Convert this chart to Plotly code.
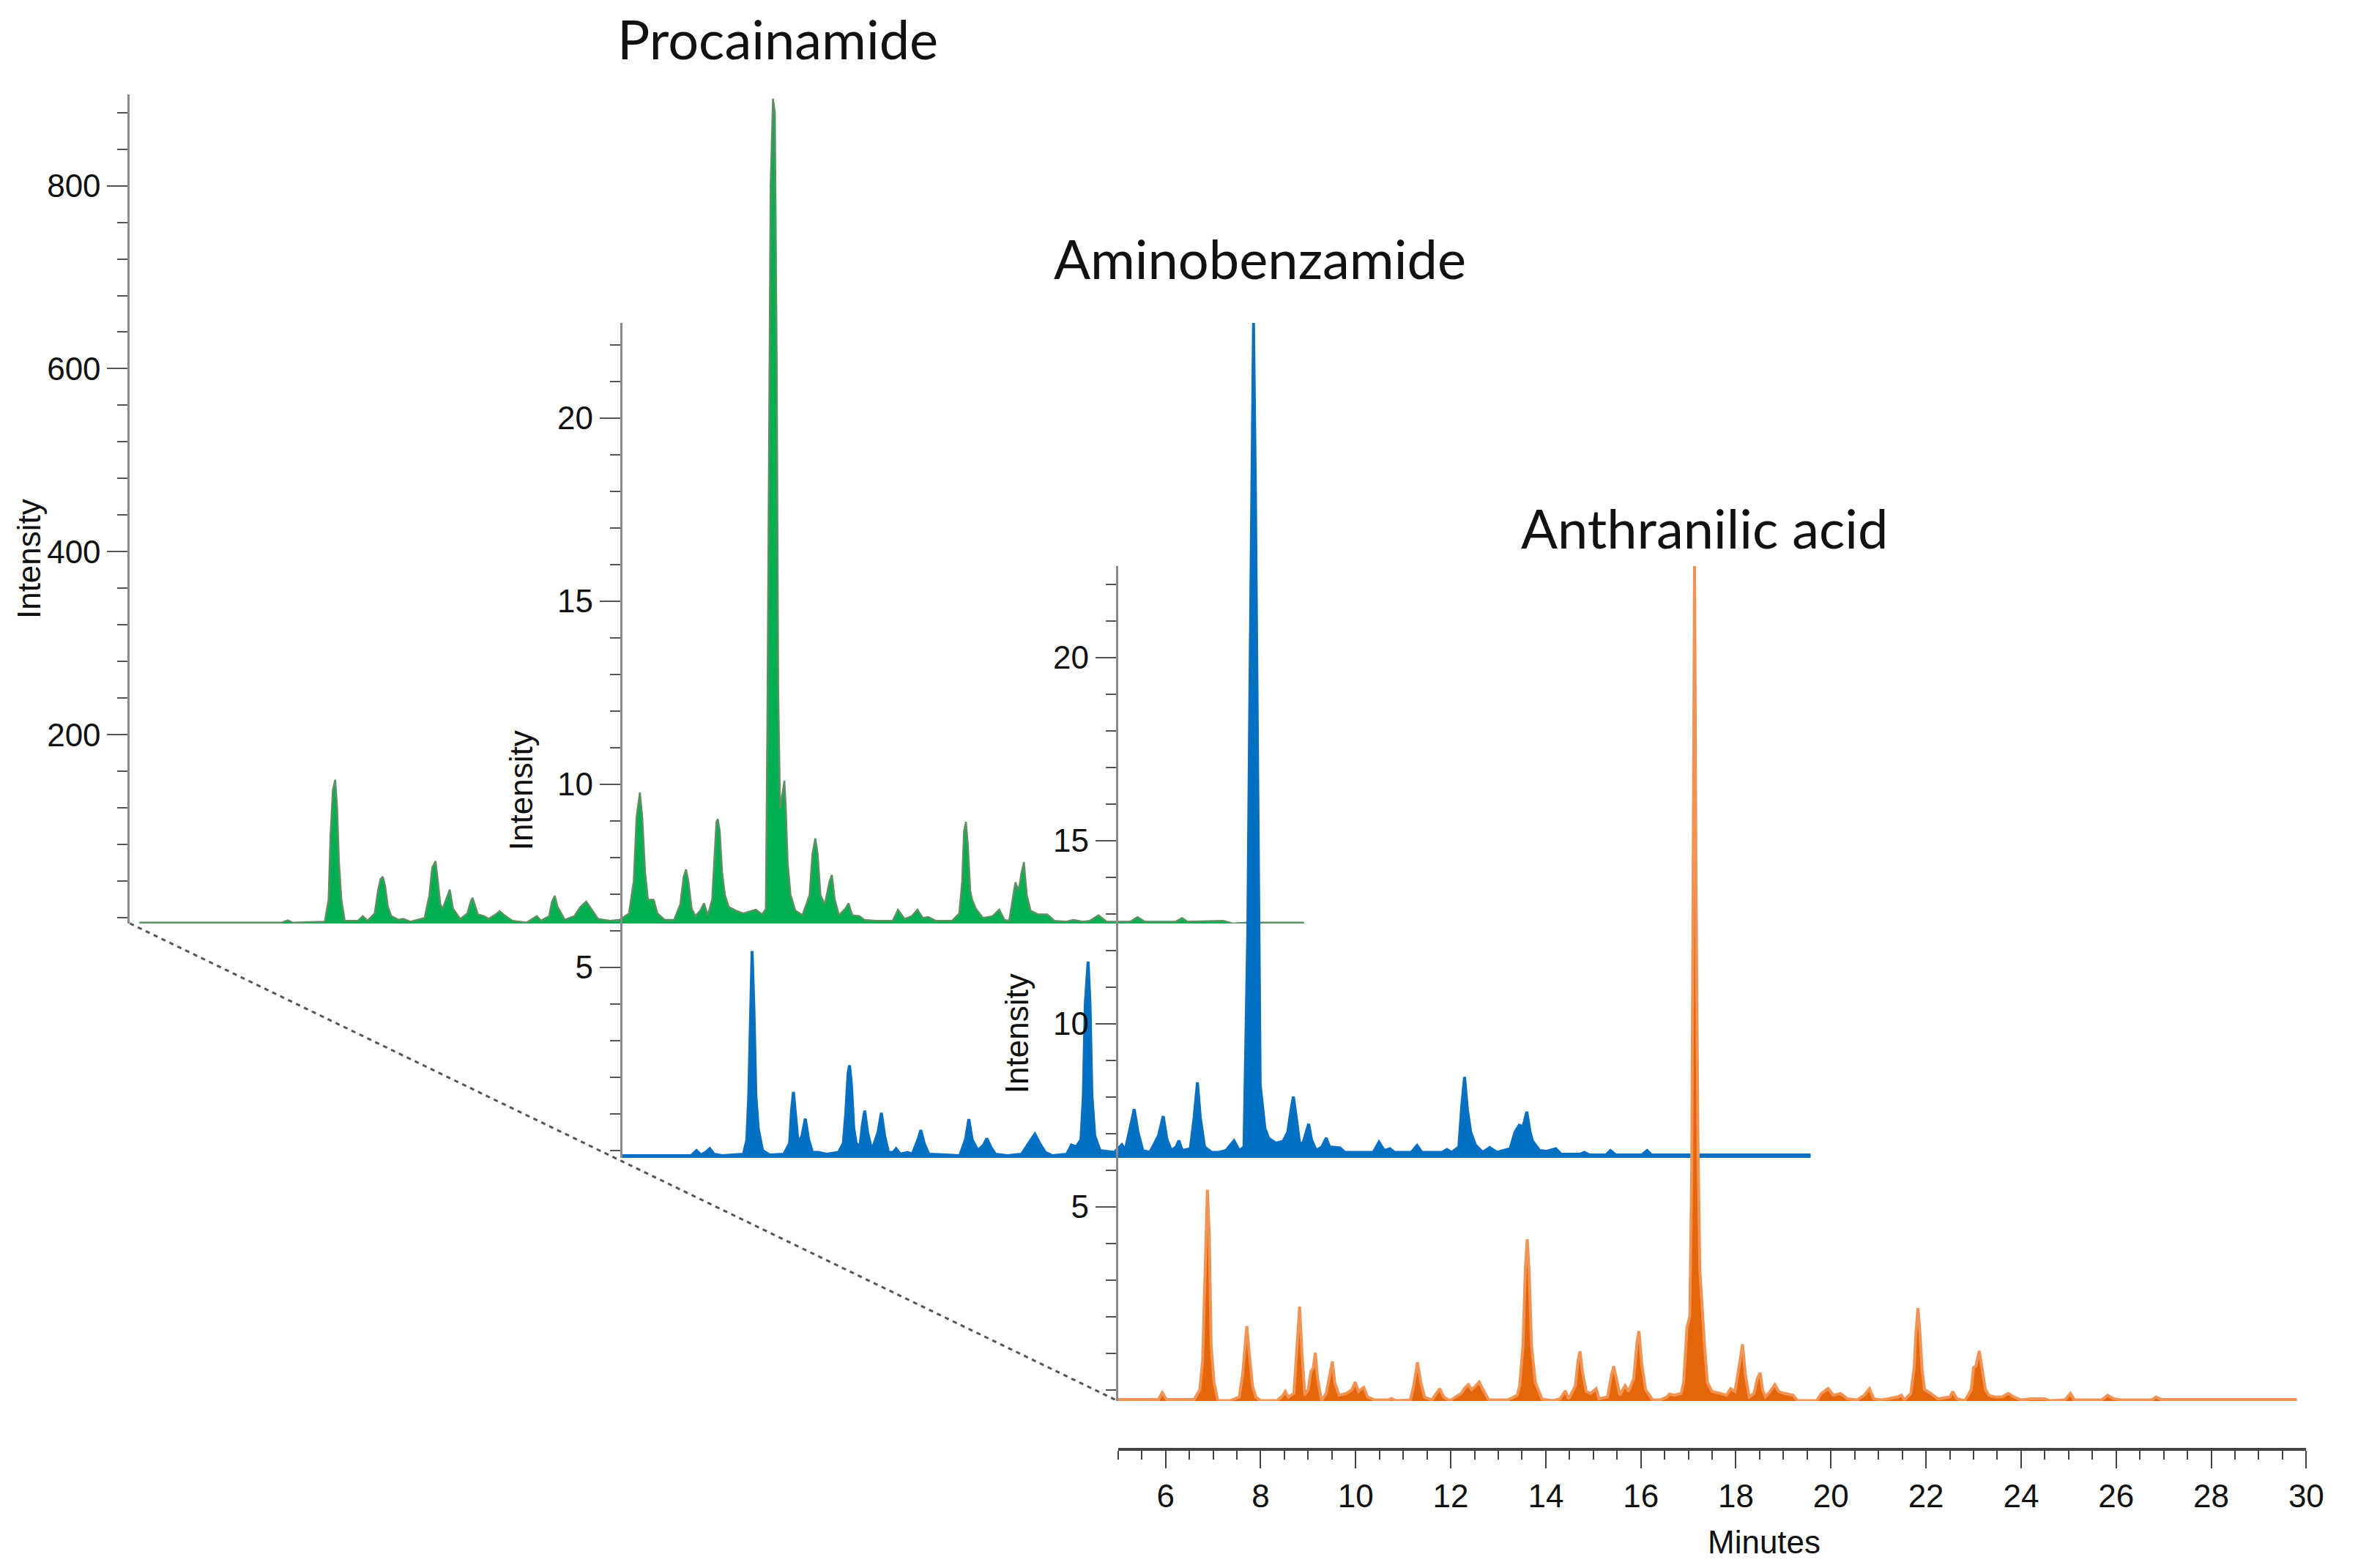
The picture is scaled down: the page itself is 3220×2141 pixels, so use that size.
import plotly.graph_objects as go

# ---- data (minutes, intensity) ----
compound_names = ["Procainamide", "Aminobenzamide", "Anthranilic acid"]

procainamide_min = [
    5.20, 8.20, 8.32, 8.42, 9.10, 9.18, 9.22, 9.27, 9.32, 9.36, 9.40, 9.45, 9.52, 9.80,
    9.90, 10.00, 10.15, 10.22, 10.27, 10.32, 10.37, 10.43, 10.50, 10.65, 10.75, 10.90,
    11.20, 11.30, 11.36, 11.43, 11.48, 11.53, 11.58, 11.66, 11.73, 11.80, 11.95, 12.10,
    12.17, 12.21, 12.26, 12.32, 12.45, 12.55, 12.70, 12.78, 12.88, 13.05, 13.35, 13.50,
    13.56, 13.65, 13.82, 13.88, 13.94, 14.00, 14.15, 14.35, 14.48, 14.60, 14.70, 14.85,
    15.10, 15.30, 15.50, 15.60, 15.66, 15.73, 15.78, 15.84, 15.90, 16.02, 16.10, 16.25,
    16.45, 16.58, 16.65, 16.70, 16.75, 16.82, 16.90, 17.00, 17.08, 17.16, 17.25, 17.30,
    17.34, 17.37, 17.41, 17.46, 17.52, 17.60, 17.75, 17.90, 18.05, 18.17, 18.30, 18.38,
    18.41, 18.44, 18.48, 18.53, 18.57, 18.61, 18.64, 18.68, 18.74, 18.77, 18.80, 18.84,
    18.90, 19.00, 19.15, 19.30, 19.36, 19.42, 19.47, 19.53, 19.62, 19.72, 19.77, 19.83,
    19.92, 20.05, 20.12, 20.20, 20.35, 20.45, 20.70, 21.05, 21.16, 21.30, 21.45, 21.57,
    21.68, 21.80, 21.95, 22.30, 22.45, 22.51, 22.55, 22.59, 22.63, 22.68, 22.72, 22.80,
    22.95, 23.15, 23.29, 23.40, 23.50, 23.58, 23.63, 23.70, 23.76, 23.81, 23.87, 23.95,
    24.10, 24.30, 24.45, 24.70, 24.85, 25.05, 25.20, 25.38, 25.55, 26.05, 26.20, 26.35,
    27.00, 27.14, 27.25, 28.00, 28.20, 28.50, 29.70,
]
procainamide_int = [
    -5, -5, -2.5, -5, -4, 20, 90, 140, 151, 120, 60, 20, -3, -3,
    2, -3, 5, 30, 42, 45, 35, 12, 2, -2, -1, -4,
    0, 25, 55, 62, 40, 15, 10, 22, 31, 10, -1, 5,
    18, 22, 14, 4, 2, -1, 4, 7.5, 3, -3, -5, 0,
    2, -3, 2, 18, 24, 12, -2, 2, 12, 18, 10, -1,
    -3, -2, 5, 40, 110, 137, 110, 50, 20, 20, 5, -2,
    -2, 15, 45, 53, 40, 10, 2, 8, 16, 3, 20, 70,
    105, 108, 95, 50, 25, 12, 8, 5, 7, 9, 4, 10,
    200, 500, 800, 895, 880, 600, 250, 119, 140, 150, 120, 60,
    25, 8, 3, 25, 70, 87, 70, 25, 15, 40, 47, 20,
    3, 10, 16, 3, 2, -2, -3, -3, 9, -1, 2, 9,
    0, 1, -3, -3, 5, 40, 95, 105, 80, 30, 20, 10,
    0, 2, 9, -2, -3, 25, 39, 30, 50, 61, 25, 8,
    4, 4, -3, -4, -2, -4, -3, 3, -4, -4, 1, -4,
    -4, 0, -4, -3, -6, -5, -5,
]

aminobenzamide_min = [
    5.00, 6.45, 6.56, 6.65, 6.75, 6.84, 6.93, 7.10, 7.55, 7.62, 7.66, 7.70, 7.73, 7.77,
    7.81, 7.86, 7.95, 8.10, 8.40, 8.52, 8.56, 8.60, 8.65, 8.70, 8.78, 8.85, 8.92, 9.00,
    9.12, 9.30, 9.55, 9.65, 9.70, 9.75, 9.78, 9.82, 9.87, 9.92, 10.00, 10.05, 10.10,
    10.16, 10.25, 10.38, 10.45, 10.52, 10.60, 10.70, 10.76, 10.85, 11.00, 11.10, 11.22,
    11.28, 11.35, 11.45, 11.80, 12.10, 12.22, 12.29, 12.36, 12.48, 12.60, 12.67, 12.75,
    12.85, 13.10, 13.40, 13.55, 13.68, 13.78, 13.90, 14.05, 14.35, 14.45, 14.55, 14.65,
    14.70, 14.74, 14.80, 14.84, 14.88, 14.94, 15.05, 15.35, 15.51, 15.58, 15.68, 15.77,
    15.85, 15.95, 16.10, 16.28, 16.38, 16.46, 16.55, 16.65, 16.71, 16.78, 16.95, 17.03,
    17.10, 17.16, 17.25, 17.40, 17.55, 17.70, 17.87, 17.98, 18.08, 18.11, 18.16, 18.20,
    18.24, 18.28, 18.32, 18.36, 18.39, 18.42, 18.46, 18.52, 18.60, 18.75, 18.90, 19.00,
    19.08, 19.12, 19.18, 19.25, 19.32, 19.40, 19.44, 19.50, 19.60, 19.72, 19.81, 19.88,
    19.98, 20.10, 20.20, 20.80, 20.92, 21.03, 21.15, 21.25, 21.60, 21.72, 21.82, 22.25,
    22.35, 22.45, 22.60, 22.66, 22.72, 22.78, 22.85, 22.95, 23.10, 23.25, 23.40, 23.68,
    23.78, 23.87, 23.95, 24.03, 24.10, 24.15, 24.30, 24.45, 24.64, 24.75, 25.15, 25.24,
    25.35, 25.70, 25.79, 25.90, 26.45, 26.56, 26.65, 30.05,
]
aminobenzamide_int = [
    -0.14, -0.14, 0.0, -0.12, -0.05, 0.05, -0.1, -0.14, -0.1, 0.3, 1.5, 4.0, 5.45, 3.8,
    1.5, 0.6, 0.0, -0.12, -0.1, 0.2, 1.1, 1.6, 0.9, 0.2, 0.4, 0.87, 0.3, -0.05,
    -0.05, -0.1, -0.05, 0.2, 1.0, 2.1, 2.33, 1.8, 0.6, 0.2, 0.1, 0.7, 1.09,
    0.5, 0.0, 0.5, 1.03, 0.4, -0.05, -0.05, 0.05, -0.1, -0.05, -0.1, 0.3,
    0.56, 0.2, -0.1, -0.12, -0.14, 0.3, 0.86, 0.3, 0.0, 0.15, 0.33, 0.1,
    -0.1, -0.14, -0.1, 0.2, 0.45, 0.2, -0.05, -0.14, -0.1, 0.15, 0.1, 0.3,
    1.5, 4.0, 5.16, 4.0, 1.5, 0.4, 0.0, -0.05, 0.16, 0.0, 0.6, 1.13,
    0.5, 0.0, -0.05, 0.4, 0.94, 0.3, 0.0, 0.1, 0.27, 0.0, 0.05, 0.9,
    1.86, 0.9, 0.1, -0.05, -0.05, 0.0, 0.27, 0.0, 0.1, 2.0, 6.0, 12.0,
    18.0, 22.6, 18.0, 11.0, 5.0, 1.8, 1.33, 0.6, 0.33, 0.2, 0.25, 0.5,
    1.2, 1.47, 0.9, 0.2, 0.2, 0.6, 0.73, 0.3, 0.0, 0.1, 0.34, 0.1,
    0.09, 0.07, -0.05, -0.05, 0.23, 0.0, 0.05, -0.05, -0.05, 0.14, -0.05, -0.05,
    0.03, -0.05, 0.1, 1.2, 2.01, 1.12, 0.5, 0.15, -0.05, 0.08, -0.05, 0.05,
    0.5, 0.69, 0.65, 1.06, 0.5, 0.26, 0.0, -0.02, 0.05, -0.1, -0.1, -0.05,
    -0.12, -0.12, 0.0, -0.12, -0.12, 0.0, -0.12, -0.12,
]

anthranilic_min = [
    5.00, 5.85, 5.93, 6.02, 6.60, 6.72, 6.78, 6.83, 6.88, 6.92, 6.96, 7.02, 7.10, 7.35,
    7.55, 7.62, 7.68, 7.71, 7.76, 7.83, 7.90, 8.00, 8.35, 8.47, 8.52, 8.58, 8.70, 8.76,
    8.82, 8.87, 8.93, 9.00, 9.06, 9.11, 9.15, 9.20, 9.28, 9.38, 9.46, 9.51, 9.56, 9.65,
    9.80, 9.92, 9.99, 10.06, 10.12, 10.17, 10.25, 10.40, 10.70, 10.75, 10.85, 11.15,
    11.22, 11.30, 11.37, 11.45, 11.60, 11.72, 11.77, 11.85, 11.98, 12.22, 12.30, 12.37,
    12.44, 12.52, 12.60, 12.68, 12.80, 13.20, 13.40, 13.45, 13.52, 13.57, 13.61, 13.65,
    13.70, 13.78, 13.92, 14.15, 14.30, 14.41, 14.48, 14.62, 14.68, 14.72, 14.77, 14.85,
    14.95, 15.06, 15.12, 15.30, 15.38, 15.43, 15.50, 15.56, 15.62, 15.67, 15.74, 15.85,
    15.92, 15.96, 16.02, 16.10, 16.25, 16.40, 16.55, 16.60, 16.70, 16.85, 16.90, 16.97,
    17.03, 17.07, 17.10, 17.13, 17.16, 17.20, 17.24, 17.30, 17.34, 17.40, 17.50, 17.68,
    17.80, 17.89, 17.98, 18.05, 18.14, 18.20, 18.28, 18.38, 18.45, 18.51, 18.56, 18.62,
    18.72, 18.82, 18.90, 19.02, 19.20, 19.30, 19.70, 19.80, 19.94, 20.05, 20.20, 20.35,
    20.55, 20.70, 20.81, 20.90, 21.05, 21.20, 21.40, 21.48, 21.55, 21.68, 21.75, 21.79,
    21.83, 21.87, 21.92, 21.97, 22.10, 22.25, 22.50, 22.56, 22.65, 22.82, 22.95, 23.00,
    23.05, 23.12, 23.18, 23.25, 23.32, 23.45, 23.60, 23.73, 23.85, 24.00, 24.20, 24.50,
    24.60, 24.92, 25.04, 25.12, 25.45, 25.70, 25.82, 25.95, 26.10, 26.75, 26.84, 26.95,
    29.80,
]
anthranilic_int = [
    -0.27, -0.27, -0.08, -0.27, -0.27, 0.0, 0.8, 3.5, 5.46, 4.2, 1.2, 0.2, -0.3, -0.3,
    -0.2, 0.4, 1.3, 1.74, 1.0, 0.1, -0.2, -0.3, -0.3, -0.15, -0.05, -0.2, -0.1, 1.0,
    2.27, 1.0, -0.15, 0.0, 0.5, 0.6, 1.01, 0.3, -0.3, -0.1, 0.4, 0.77, 0.2, -0.15,
    -0.1, 0.0, 0.21, -0.05, 0.02, 0.06, -0.2, -0.28, -0.28, -0.24, -0.3, -0.28,
    0.1, 0.75, 0.2, -0.2, -0.28, -0.05, 0.03, -0.2, -0.3, -0.1, 0.05, 0.14,
    0.0, 0.1, 0.21, 0.0, -0.28, -0.28, -0.15, 0.1, 1.2, 3.3, 4.11, 3.2,
    1.2, 0.2, -0.26, -0.3, -0.25, -0.03, -0.25, 0.1, 0.8, 1.05, 0.5, -0.05,
    -0.1, 0.03, -0.25, -0.2, 0.4, 0.64, 0.2, -0.15, 0.0, 0.11, -0.05, 0.3,
    1.3, 1.6, 0.7, 0.0, -0.28, -0.28, -0.2, -0.12, -0.15, -0.1, 0.2, 1.7,
    2.0, 6.0, 14.0, 22.5, 14.0, 7.0, 3.3, 2.0, 1.2, 0.2, -0.05, -0.1,
    -0.15, 0.03, -0.05, 0.5, 1.24, 0.4, -0.2, -0.1, 0.3, 0.46, 0.0, -0.2,
    -0.05, 0.14, -0.05, -0.1, -0.15, -0.3, -0.3, -0.1, 0.03, -0.15, -0.1, -0.25,
    -0.28, -0.15, 0.03, -0.25, -0.28, -0.25, -0.2, -0.15, -0.28, -0.1, 0.6, 1.6,
    2.23, 1.6, 0.5, 0.0, -0.1, -0.25, -0.2, -0.05, -0.25, -0.3, 0.0, 0.6,
    0.65, 1.06, 0.6, 0.0, -0.15, -0.2, -0.2, -0.1, -0.2, -0.28, -0.25, -0.25,
    -0.3, -0.28, -0.1, -0.28, -0.28, -0.28, -0.15, -0.25, -0.28, -0.28, -0.2, -0.27,
    -0.27,
]

green_ticks = [200, 400, 600, 800]
small_ticks = [5, 10, 15, 20]
minute_ticks = [6, 8, 10, 12, 14, 16, 18, 20, 22, 24, 26, 28, 30]

# ---- panel layout (paper fractions), stacked diagonally ----
W, H = 3220, 2141
x_domains = [[0.0530, 0.5607], [0.2634, 0.7711], [0.4752, 0.9829]]
y_domains = [[0.4148, 0.9437], [0.2653, 0.7978], [0.1102, 0.6427]]
y_ranges = [[-6, 900], [-0.2, 22.6], [-0.31, 22.5]]

fills = ["#00B050", "#0070C0", "#E4650A"]
lines = ["#5E8F63", "#0A6FC0", "#F09456"]
line_widths = [2.5, 4, 4]

series = [
    (procainamide_min, procainamide_int),
    (aminobenzamide_min, aminobenzamide_int),
    (anthranilic_min, anthranilic_int),
]

fig = go.Figure()

for i, (tx, ty) in enumerate(series):
    ax = "" if i == 0 else str(i + 1)
    floor = y_ranges[i][0]
    # flat floor the peaks are filled down to
    fig.add_trace(go.Scatter(
        x=[tx[0], tx[-1]], y=[floor, floor], mode="lines",
        line=dict(width=0, color=fills[i]), hoverinfo="skip",
        xaxis="x" + ax, yaxis="y" + ax, showlegend=False,
    ))
    fig.add_trace(go.Scatter(
        x=tx, y=ty, mode="lines", fill="tonexty", fillcolor=fills[i],
        line=dict(color=lines[i], width=line_widths[i]),
        name=compound_names[i], xaxis="x" + ax, yaxis="y" + ax, showlegend=False,
    ))

tick_font = dict(family="Arial, Liberation Sans, sans-serif", size=44, color="#111111")

for i in range(3):
    ax = "" if i == 0 else str(i + 1)
    big = i == 0
    fig.update_layout({
        "xaxis" + ax: dict(
            domain=x_domains[i], range=[5, 30], anchor="y" + ax,
            visible=False, showgrid=False, zeroline=False,
        ),
        "yaxis" + ax: dict(
            domain=y_domains[i], range=y_ranges[i], anchor="x" + ax,
            showline=True, linecolor="#8a8a8a", linewidth=3,
            showgrid=False, zeroline=False,
            tickmode="array", tickvals=green_ticks if big else small_ticks,
            ticks="outside", ticklen=28, tickwidth=2, tickcolor="#555555",
            tickfont=tick_font,
            minor=dict(dtick=40 if big else 1, tick0=0, ticks="outside",
                       ticklen=14, tickwidth=2, tickcolor="#555555", showgrid=False),
        ),
    })

# only the front panel carries the minutes axis, dropped below the trace
fig.update_layout(xaxis3=dict(
    visible=True, anchor="free", position=0.0794, side="bottom",
    showline=True, linecolor="#444444", linewidth=4,
    tickmode="array", tickvals=minute_ticks,
    ticks="outside", ticklen=24, tickwidth=2, tickcolor="#444444",
    tickfont=tick_font,
    minor=dict(dtick=0.5, tick0=5, ticks="outside", ticklen=12, tickwidth=2,
               tickcolor="#444444", showgrid=False),
))

annotations = []
title_pos = [(0.3298, 0.9790), (0.5357, 0.8393), (0.7258, 0.6674)]
for name, (px_, py_) in zip(compound_names, title_pos):
    annotations.append(dict(
        text=name, x=px_, y=py_, xref="paper", yref="paper",
        xanchor="center", yanchor="middle", showarrow=False,
        font=dict(family="Lato, Open Sans, sans-serif", size=74, color="#111111"),
    ))
for i in range(3):
    ax = "" if i == 0 else str(i + 1)
    annotations.append(dict(
        text="Intensity", x=0, y=0.44, xref="x" + ax + " domain", yref="y" + ax + " domain",
        xshift=-138, textangle=-90, showarrow=False,
        xanchor="center", yanchor="middle", font=tick_font,
    ))
annotations.append(dict(
    text="Minutes", x=0.7512, y=0.0201, xref="paper", yref="paper",
    xanchor="center", yanchor="middle", showarrow=False, font=tick_font,
))

fig.update_layout(
    width=W, height=H,
    margin=dict(l=0, r=0, t=0, b=0),
    paper_bgcolor="white", plot_bgcolor="rgba(0,0,0,0)",
    annotations=annotations,
    shapes=[dict(
        type="line", xref="paper", yref="paper",
        x0=x_domains[0][0], y0=y_domains[0][0], x1=x_domains[2][0], y1=y_domains[2][0],
        line=dict(color="#555555", width=3, dash="6px,6px"),
    )],
    showlegend=False,
)

fig.write_html("out.html")
